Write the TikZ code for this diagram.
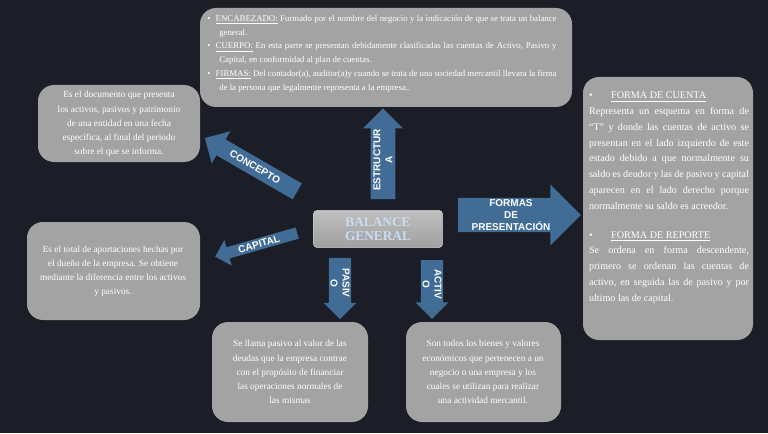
\documentclass[tikz,border=0pt]{standalone}
\usepackage{fontspec}
\setmainfont{Liberation Serif}
\newfontfamily\arrfont{Liberation Sans}
\usetikzlibrary{shapes.arrows}
\begin{document}
\begin{tikzpicture}[x=0.75pt,y=0.75pt,
  gbox/.style={fill=gray!72,rounded corners=12pt,draw=none},
  gtxt/.style={text=white,font=\fontsize{7}{10.6}\selectfont,align=center},
  arr/.style={single arrow,fill=arrblue,draw=none,text=white,font=\arrfont\bfseries\fontsize{7.5}{9}\selectfont,align=center,inner sep=1pt},
  itm/.style={text=white,font=\fontsize{6.6}{10.3}\selectfont,align=justify}]
\definecolor{bg}{HTML}{1B1E27}
\definecolor{arrblue}{HTML}{416C96}
\definecolor{bal}{HTML}{C9DDF2}
\fill[bg] (0,0) rectangle (768,433);
\useasboundingbox (0,0) rectangle (768,433);
% boxes
\fill[gbox] (200,326) rectangle (572,425);
\node[itm,text width=262pt,anchor=north west,inner sep=0pt] (top) at (207,418) {%
\hangindent=9pt\hangafter=1\textbullet\hspace{4pt}\underline{ENCABEZADO:} Formado por el nombre del negocio y la indicación de que se trata un balance general.\par
\hangindent=9pt\hangafter=1\textbullet\hspace{4pt}\underline{CUERPO:} En esta parte se presentan debidamente clasificadas las cuentas de Activo, Pasivo y Capital, en conformidad al plan de cuentas.\par
\hangindent=9pt\hangafter=1\textbullet\hspace{4pt}\underline{FIRMAS:} Del contador(a), auditor(a)y cuando se trata de una sociedad mercantil llevara la firma de la persona que legalmente representa a la empresa..\par};
\fill[gbox] (583,93) rectangle (753,356);
\node[itm,text width=120pt,anchor=north,font=\fontsize{7.6}{11.8}\selectfont,inner sep=0pt] (right) at (669,341) {%
\textbullet\hspace{14pt}\underline{FORMA DE CUENTA}\\
Representa un esquema en forma de ``T'' y donde las cuentas de activo se presentan en el lado izquierdo de este estado debido a que normalmente su saldo es deudor y las de pasivo y capital aparecen en el lado derecho porque normalmente su saldo es acreedor.\\[10pt]
\textbullet\hspace{14pt}\underline{FORMA DE REPORTE}\\
Se ordena en forma descendente, primero se ordenan las cuentas de activo, en seguida las de pasivo y por ultimo las de capital.};
\fill[gbox] (38,271) rectangle (200,348);
\node[gtxt] (conc) at (119,309) {Es el documento que presenta\\los activos, pasivos y patrimonio\\de una entidad en una fecha\\específica, al final del periodo\\sobre el que se informa.};
\fill[gbox] (27,113) rectangle (200,211);
\node[gtxt] (cap) at (113,162) {Es el total de aportaciones hechas por\\el dueño de la empresa. Se obtiene\\mediante la diferencia entre los activos\\y pasivos.};
\fill[gbox] (212,11) rectangle (368,111);
\node[gtxt] (pas) at (290,61) {Se llama pasivo al valor de las\\deudas que la empresa contrae\\con el propósito de financiar\\las operaciones normales de\\las mismas};
\fill[gbox] (406,11) rectangle (561,111);
\node[gtxt] (act) at (483,61) {Son todos los bienes y valores\\económicos que pertenecen a un\\negocio o una empresa y los\\cuales se utilizan para realizar\\una actividad mercantil.};
% center
\node[rounded corners=3pt,top color=gray!50,bottom color=gray!75,draw=gray!40,minimum width=97pt,minimum height=28pt,text=bal,font=\bfseries\fontsize{10}{10}\selectfont,align=center] (bg1) at (378,204) {BALANCE\\GENERAL};
% arrows
\node[arr,minimum height=80pt,minimum width=28pt,single arrow head extend=4pt,rotate=-30,shape border rotate=180] (a1) at (255,266) {CONCEPTO};
\node[arr,minimum height=68pt,minimum width=30pt,single arrow head extend=5pt,rotate=90] (a2) at (383,273) {ESTRUCTUR\\A};
\node[arr,minimum height=92pt,minimum width=38pt,single arrow head extend=10pt] (a3) at (511,218) {FORMAS\\DE\\PRESENTACIÓN};
\node[arr,minimum height=64pt,minimum width=20pt,single arrow head extend=5pt,rotate=16,shape border rotate=180] (a4) at (259,189) {CAPITAL};
\node[arr,minimum height=46pt,minimum width=20pt,single arrow head extend=4pt,rotate=-90] (a5) at (340,150) {PASIV\\O};
\node[arr,minimum height=44pt,minimum width=20pt,single arrow head extend=4pt,rotate=-90] (a6) at (432,149) {ACTIV\\O};
\end{tikzpicture}
\end{document}
